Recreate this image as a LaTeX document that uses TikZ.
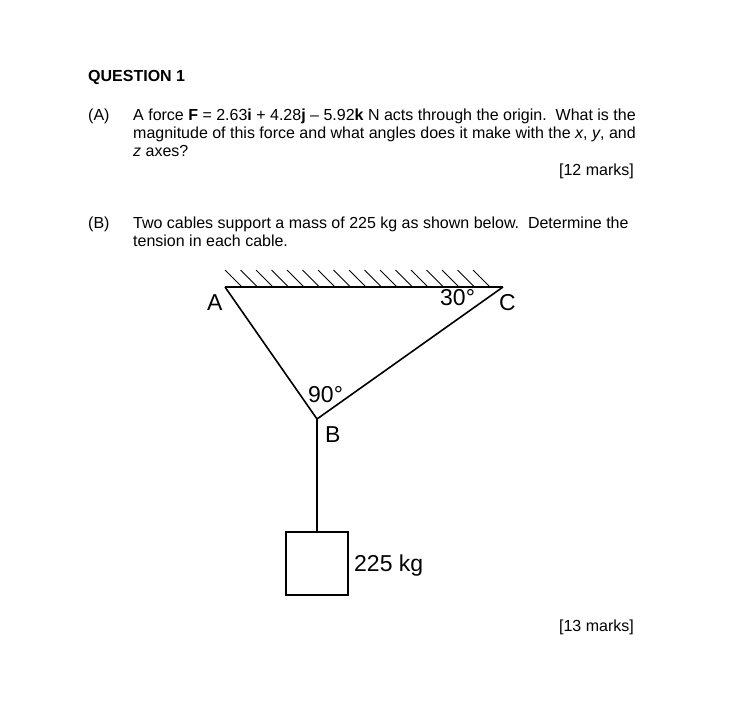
\documentclass[tikz,border=0pt]{standalone}
\usepackage{fontspec}
\setmainfont{Liberation Sans}
\begin{document}
\begin{tikzpicture}[x=1pt,y=-1pt,
  txt/.style={anchor=base west,inner sep=0pt,font=\fontsize{16}{18}\selectfont},
  lbl/.style={anchor=base west,inner sep=0pt,font=\fontsize{23}{25}\selectfont},
  cable/.style={line width=1.6pt}]
\useasboundingbox (0,0) rectangle (749,708);
\node[txt,font=\fontsize{16}{18}\selectfont\bfseries] (q) at (88,82) {QUESTION 1};
\node[txt] (a) at (88,121) {(A)};
\node[txt] (a1) at (133,121) {A force \textbf{F} = 2.63\textbf{i} + 4.28\textbf{j} -- 5.92\textbf{k} N acts through the origin.\ \ What is the};
\node[txt] (a2) at (133,139) {magnitude of this force and what angles does it make with the \textit{x}, \textit{y}, and};
\node[txt] (a3) at (133,157) {\textit{z} axes?};
\node[txt,anchor=base east] (m1) at (634,176) {[12 marks]};
\node[txt] (b) at (88,229) {(B)};
\node[txt] (b1) at (133,229) {Two cables support a mass of 225 kg as shown below.\ \ Determine the};
\node[txt] (b2) at (133,247) {tension in each cable.};
\node[txt,anchor=base east] (m2) at (634,631) {[13 marks]};
\coordinate (A) at (225,287);
\coordinate (C) at (503,287);
\coordinate (B) at (317,419);
\coordinate (T) at (317,531);
\foreach \i in {0,...,16} \draw[line width=0.8pt] (225+15.5*\i,270) -- ++(17,17);
\draw[cable] (A) -- (C);
\draw[cable] (A) -- (B) -- (C);
\draw[cable] (B) -- (T);
\node[draw,line width=1.6pt,minimum width=62pt,minimum height=63pt,inner sep=0pt,anchor=north] (box) at (T) {};
\node[lbl] (la) at (207,311) {A};
\node[lbl] (lc) at (499,311) {C};
\node[lbl] (l30) at (440,306) {30°};
\node[lbl] (l90) at (308,402) {90°};
\node[lbl] (lb) at (325,442) {B};
\node[lbl] (lkg) at (354,571) {225 kg};
\end{tikzpicture}
\end{document}
